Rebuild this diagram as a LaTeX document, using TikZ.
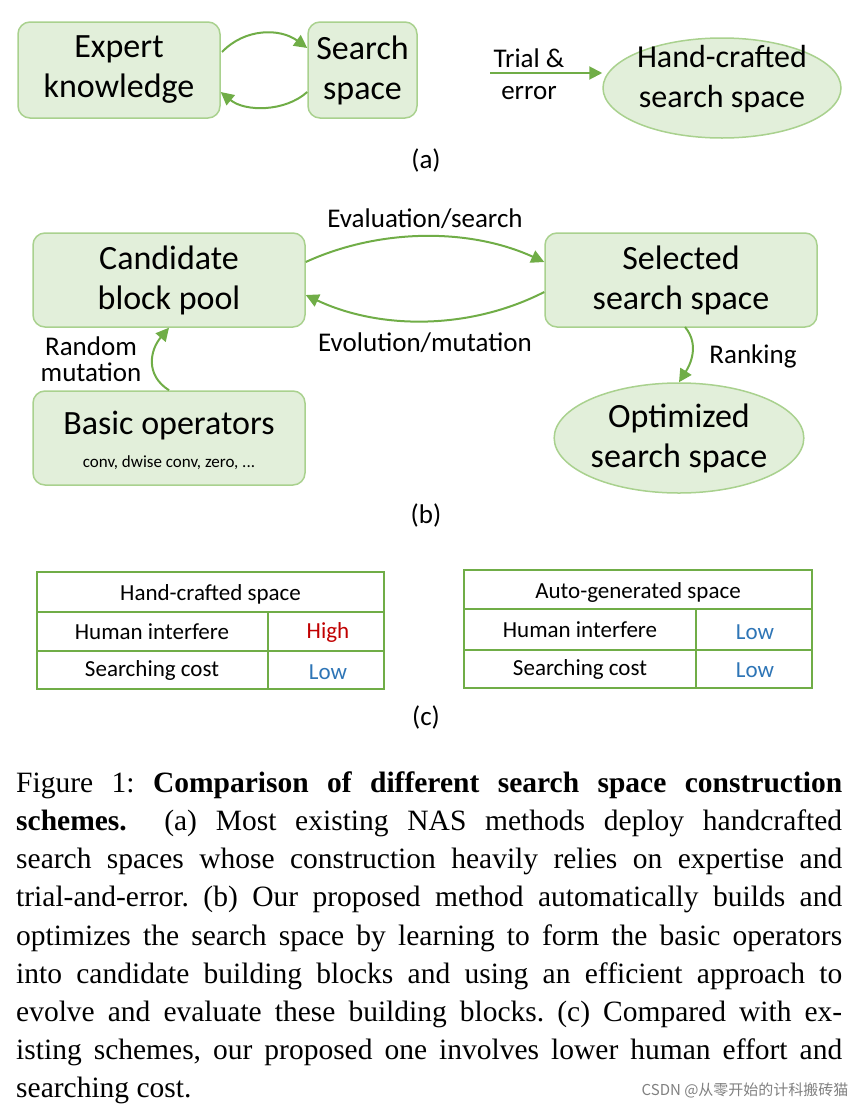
\documentclass[tikz,border=0pt]{standalone}
\usepackage{fontspec}
\setmainfont{Liberation Serif}
\newfontfamily\calf{Carlito}
\newfontfamily\cjkf{Noto Sans CJK SC}
\usetikzlibrary{arrows.meta,shapes.geometric}
\definecolor{gfill}{HTML}{E2EFDA}
\definecolor{gbord}{HTML}{A9D18E}
\definecolor{garr}{HTML}{70AD47}
\definecolor{hred}{HTML}{C00000}
\definecolor{lblue}{HTML}{2E75B6}
\frenchspacing
\begin{document}
\begin{tikzpicture}[x=1pt,y=-1pt,
  box/.style={draw=gbord,fill=gfill,line width=1.5pt,rounded corners=12pt,font=\calf\fontsize{34}{40}\selectfont,align=center,inner sep=0pt},
  ell/.style={draw=gbord,fill=gfill,line width=1.5pt,ellipse,inner sep=0pt,font=\calf\fontsize{34}{40}\selectfont,align=center},
  arr/.style={draw=garr,line width=2pt,-{Triangle[length=13pt,width=13pt]}},
  lab/.style={font=\calf\fontsize{27}{26}\selectfont,align=center},
  tcell/.style={draw=garr,line width=1.5pt},
  ttxt/.style={font=\calf\fontsize{23}{25}\selectfont},
  capt/.style={anchor=west,inner sep=0pt,font=\fontsize{29.5}{30}\selectfont}]
\useasboundingbox (0,0) rectangle (867,1111);
% (a)
\node[box,minimum width=202pt,minimum height=96pt] (ek) at (119,70) {Expert\\knowledge};
\node[box,minimum width=109pt,minimum height=96pt] (ss) at (362.5,70) {Search\\space};
\node[ell,minimum width=238pt,minimum height=100pt] (hc) at (722,88) {};
\node[font=\calf\fontsize{32}{40}\selectfont,align=center] (hct) at (722,79) {Hand-crafted\\search space};
\draw[arr] (222,52) .. controls (245,28) and (280,28) .. (ss.west|-0,48);
\draw[arr] (ss.west|-0,92) .. controls (285,112) and (245,112) .. (ek.east|-0,92);
\coordinate (ts) at (490,73);
\draw[arr] (ts) -- (hc.west|-ts);
\node[lab] at (529,58) {Trial \&};
\node[lab] at (529,93) {error};
\node[lab] at (426,160) {(a)};
% (b)
\node[box,minimum width=272pt,minimum height=94pt] (cb) at (169,280) {Candidate\\block pool};
\node[box,minimum width=272pt,minimum height=94pt] (sel) at (681,280) {Selected\\search space};
\node[box,minimum width=272pt,minimum height=94pt] (bo) at (169,438) {};
\node[font=\calf\fontsize{34}{40}\selectfont] at (169,426) {Basic operators};
\node[font=\calf\fontsize{17}{19}\selectfont] at (169,463) {conv, dwise conv, zero, ...};
\node[ell,minimum width=244pt,minimum height=110pt] (opt) at (679,438) {Optimized\\search space};
\draw[arr] (cb.east|-0,262) .. controls (380,228) and (470,228) .. (sel.west|-0,262);
\draw[arr] (sel.west|-0,292) .. controls (470,330) and (380,330) .. (cb.east|-0,295);
\node[lab] at (425,219) {Evaluation/search};
\node[lab] at (425,343) {Evolution/mutation};
\draw[arr] (bo.north) .. controls (145,375) and (150,350) .. (cb.south);
\node[lab] at (91,359) {Random\\mutation};
\draw[arr] (685,327) .. controls (700,345) and (690,365) .. (opt.north);
\node[lab] at (753,356) {Ranking};
\node[lab] at (426,515) {(b)};
% (c)
\draw[tcell] (37,572) rectangle (384,689);
\draw[tcell] (37,612) -- (384,612) (37,651) -- (384,651) (268,612) -- (268,689);
\node[ttxt] at (210.5,594) {Hand-crafted space};
\node[ttxt] at (152,632) {Human interfere};
\node[ttxt,text=hred] at (328,632) {High};
\node[ttxt] at (152,670) {Searching cost};
\node[ttxt,text=lblue] at (328,672) {Low};
\draw[tcell] (464,570) rectangle (812,688);
\draw[tcell] (464,609) -- (812,609) (464,650) -- (812,650) (696,609) -- (696,688);
\node[ttxt] at (638,592) {Auto-generated space};
\node[ttxt] at (580,630) {Human interfere};
\node[ttxt,text=lblue] at (755,632) {Low};
\node[ttxt] at (580,669) {Searching cost};
\node[ttxt,text=lblue] at (755,670) {Low};
\node[lab] at (426,717) {(c)};
% caption
\node[capt] at (16,785) {\makebox[826pt][s]{Figure 1: \textbf{Comparison of different search space construction}}};
\node[capt] at (16,823) {\makebox[826pt][s]{\textbf{schemes.} \ (a) Most existing NAS methods deploy handcrafted}};
\node[capt] at (16,861) {\makebox[826pt][s]{search spaces whose construction heavily relies on expertise and}};
\node[capt] at (16,899) {\makebox[826pt][s]{trial-and-error. (b) Our proposed method automatically builds and}};
\node[capt] at (16,938) {\makebox[826pt][s]{optimizes the search space by learning to form the basic operators}};
\node[capt] at (16,976) {\makebox[826pt][s]{into candidate building blocks and using an efficient approach to}};
\node[capt] at (16,1014) {\makebox[826pt][s]{evolve and evaluate these building blocks. (c) Compared with ex-}};
\node[capt] at (16,1052) {\makebox[826pt][s]{isting schemes, our proposed one involves lower human effort and}};
\node[capt] at (16,1090) {searching cost.};
\node[anchor=east,text=gray,font=\cjkf\fontsize{15}{17}\selectfont] at (852,1090) {CSDN @从零开始的计科搬砖猫};
\end{tikzpicture}
\end{document}
